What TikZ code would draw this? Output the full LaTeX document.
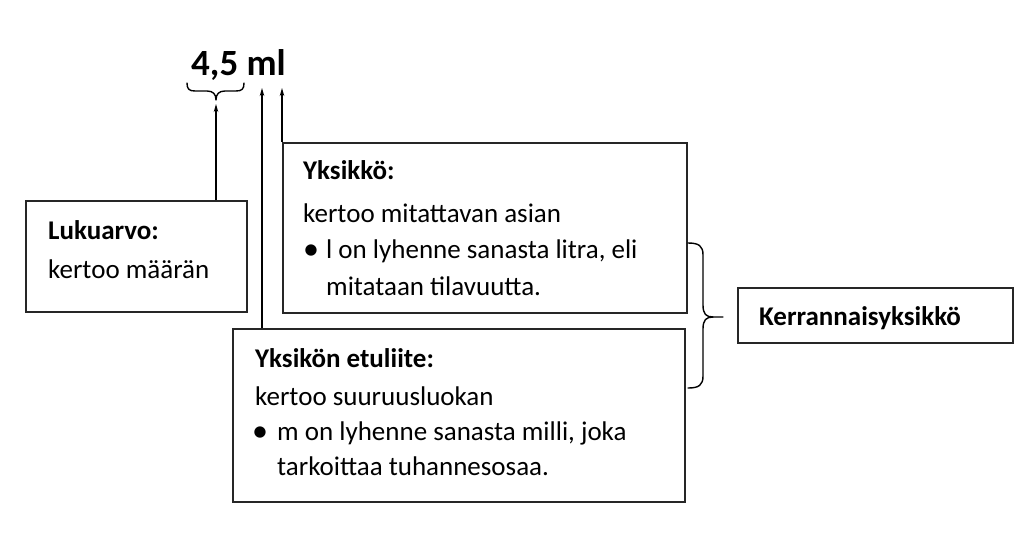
\documentclass[tikz,border=0pt]{standalone}
\usepackage{fontspec}
\setmainfont{Carlito}
\usetikzlibrary{arrows.meta}
\begin{document}
\begin{tikzpicture}[x=1pt,y=-1pt,
  boxst/.style={draw=black!85, line width=1.6pt, inner sep=0pt, anchor=north west},
  txt/.style={inner sep=0pt, anchor=base west, font=\fontsize{27}{32}\selectfont},
  hd/.style={txt, font=\fontsize{27}{32}\selectfont\bfseries},
  bul/.style={inner sep=0pt, anchor=base, font=\fontsize{32}{36}\selectfont},
  arr/.style={line width=1.5pt, -{Stealth[length=8pt,width=4.5pt]}},
  brc/.style={line width=1.4pt, line cap=round, line join=round}]
\useasboundingbox (0,0) rectangle (1024,552);
% title
\node[inner sep=0pt, anchor=base west, font=\fontsize{37}{40}\selectfont\bfseries] (title) at (191,75) {4,5 ml};
% boxes
\node[boxst, minimum width=221pt, minimum height=111pt] (luku) at (25,200) {};
\node[boxst, minimum width=404pt, minimum height=170pt] (yks) at (282,142) {};
\node[boxst, minimum width=452pt, minimum height=173pt] (ety) at (232,328) {};
\node[boxst, minimum width=275pt, minimum height=55pt] (kerr) at (737,287) {};
% texts
\node[hd] (lukuh) at (48,239) {Lukuarvo:};
\node[txt] (lukub) at (48,278) {kertoo määrän};
\node[hd] (yksh) at (303,179) {Yksikkö:};
\node[txt] (yksb) at (303,222) {kertoo mitattavan asian};
\node[bul] (yksbul) at (311,259) {•};
\node[txt] (yksl1) at (326,258) {l on lyhenne sanasta litra, eli};
\node[txt] (yksl2) at (326,295) {mitataan tilavuutta.};
\node[hd] (etyh) at (255,367) {Yksikön etuliite:};
\node[txt] (etyb) at (255,405) {kertoo suuruusluokan};
\node[bul] (etybul) at (260,441) {•};
\node[txt] (etyl1) at (277,440) {m on lyhenne sanasta milli, joka};
\node[txt] (etyl2) at (277,475) {tarkoittaa tuhannesosaa.};
\node[hd] (kerrt) at (759,325) {Kerrannaisyksikkö};
% top brace
\coordinate (btip) at (216,100);
\draw[brc] (187,83) .. controls (187,89) and (189,91) .. (195,91) -- (207,91)
  .. controls (213,91) and (216,94) .. (btip)
  .. controls (216,94) and (219,91) .. (225,91) -- (236,91)
  .. controls (242,91) and (244,89) .. (244,83);
% right brace
\coordinate (rtip) at (723,317);
\draw[brc] (688,243) .. controls (699,243) and (703,246) .. (703,255) -- (703,305)
  .. controls (703,314) and (706,317) .. (713,317) -- (rtip);
\draw[brc] (713,317) .. controls (706,317) and (703,320) .. (703,329) -- (703,376)
  .. controls (703,385) and (699,388) .. (688,388);
% arrows
\coordinate (tipm) at (262,88);
\coordinate (tipl) at (282,88);
\coordinate (tipn) at (216,104);
\draw[arr] (luku.north -| tipn) -- (tipn);
\draw[arr] (ety.north -| tipm) -- (tipm);
\draw[arr] (yks.north west) -- (tipl);
\end{tikzpicture}
\end{document}
